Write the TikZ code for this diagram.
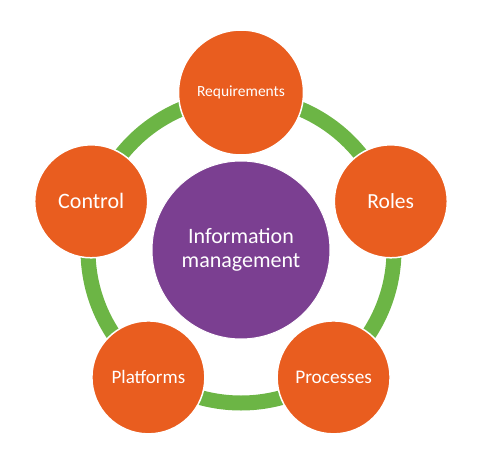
\documentclass[tikz,border=0pt]{standalone}
\usepackage{fontspec}
\setmainfont{Carlito}
\definecolor{orng}{HTML}{E95D1F}
\definecolor{purp}{HTML}{7B3F91}
\definecolor{grn}{HTML}{6CB545}
\tikzset{
  outer/.style={circle, fill=orng, draw=white, line width=1.5pt, text=white, inner sep=0pt, minimum size=113pt, align=center},
  hub/.style={circle, fill=purp, draw=white, line width=1pt, text=white, inner sep=0pt, minimum size=178pt, align=center},
  ring/.style={draw=grn, line width=15pt}
}
\begin{document}
\begin{tikzpicture}[x=1pt,y=-1pt]
\useasboundingbox (0,0) rectangle (480,469);
\coordinate (c) at (241,250);
\draw[ring] (c) circle (153);
\node[hub, font=\fontsize{22}{24}\selectfont] (info) at (c) {Information\\management};
\node[outer, minimum size=125pt, font=\fontsize{15.5}{18}\selectfont] (req) at (241,92.5) {Requirements};
\node[outer, font=\fontsize{21.5}{24}\selectfont] (roles) at (390.8,201.3) {Roles};
\node[outer, font=\fontsize{19.3}{22}\selectfont] (proc) at (333.6,377.4) {Processes};
\node[outer, font=\fontsize{19}{22}\selectfont] (plat) at (148.4,377.4) {Platforms};
\node[outer, font=\fontsize{22}{24}\selectfont] (ctrl) at (91.2,201.3) {Control};
\end{tikzpicture}
\end{document}
